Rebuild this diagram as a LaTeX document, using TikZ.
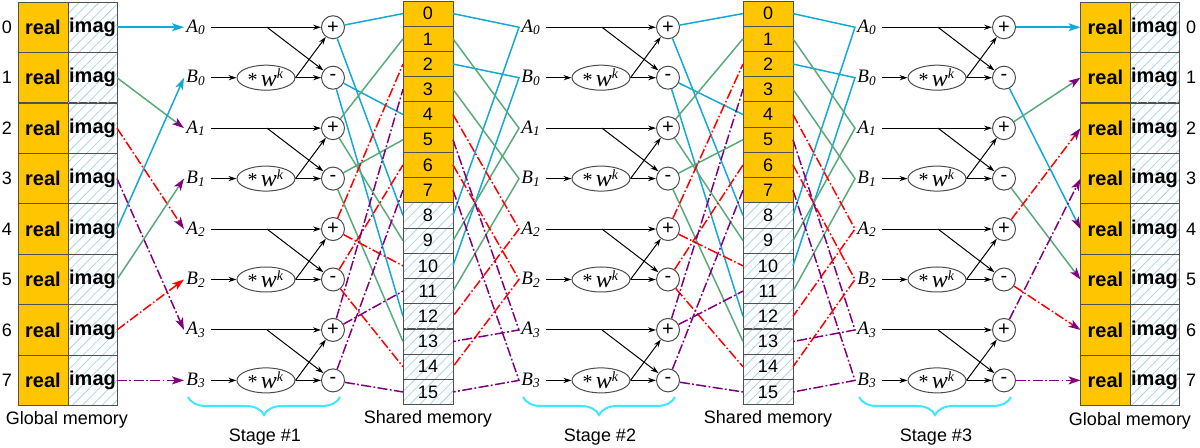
\documentclass[tikz,border=0pt]{standalone}
\usepackage{fontspec}
\setmainfont{Liberation Sans}
\newfontfamily\labfont{Liberation Serif}
\usetikzlibrary{arrows.meta,patterns.meta,decorations.pathreplacing,shapes.geometric}
\definecolor{memorange}{RGB}{255,198,0}
\definecolor{hatchblue}{RGB}{170,212,230}
\definecolor{cellline}{RGB}{80,80,80}
\definecolor{lncyan}{RGB}{22,168,212}
\definecolor{lngreen}{RGB}{88,170,122}
\definecolor{lnred}{RGB}{255,0,0}
\definecolor{lnpurple}{RGB}{128,0,128}
\definecolor{bracecyan}{RGB}{60,232,250}
\tikzset{realcell/.style={draw=cellline, fill=memorange, minimum width=25pt,
      minimum height=25.2pt, inner sep=0pt, outer sep=0pt, font=\bfseries}}
\tikzset{imagcell/.style={draw=cellline, pattern={Lines[angle=45,distance=3.5pt,line width=0.4pt]},
      pattern color=hatchblue, minimum width=24.5pt, minimum height=25.2pt,
      inner sep=0pt, outer sep=0pt, font=\bfseries}}
\tikzset{smreal/.style={draw=cellline, fill=memorange, minimum width=25pt,
      minimum height=12.6pt, inner sep=0pt, outer sep=0pt, font=\fontsize{9}{10}\selectfont}}
\tikzset{smimag/.style={draw=cellline, pattern={Lines[angle=45,distance=3.5pt,line width=0.4pt]},
      pattern color=hatchblue, minimum width=25pt, minimum height=12.6pt,
      inner sep=0pt, outer sep=0pt, font=\fontsize{9}{10}\selectfont}}
\tikzset{inlbl/.style={anchor=west, text width=11pt, inner sep=1pt,
      font=\labfont\fontsize{9.5}{11}\selectfont}}
\tikzset{twid/.style={ellipse, draw=black!70, line width=0.5pt, minimum width=29pt,
      minimum height=12.5pt, inner sep=0pt, font=\labfont\fontsize{10}{11}\selectfont}}
\tikzset{opnode/.style={circle, draw=black!70, line width=0.5pt, minimum size=11.5pt,
      inner sep=0pt, font=\fontsize{10}{10}\selectfont}}
\tikzset{arr/.style={line width=0.5pt, -{Stealth[length=4pt,width=2.6pt]}}}
\tikzset{ln0/.style={lncyan, line width=0.75pt}}
\tikzset{ln1/.style={lngreen, line width=0.75pt}}
\tikzset{ln2/.style={lnred, line width=0.75pt, dash pattern=on 5pt off 1.2pt on 0.8pt off 1.2pt}}
\tikzset{ln3/.style={lnpurple, line width=0.75pt, dash pattern=on 5pt off 1.2pt on 0.9pt off 1.2pt}}
\tikzset{brc/.style={draw=bracecyan, line width=1pt, decorate,
      decoration={brace, mirror, amplitude=9pt}}}

\begin{document}
\begin{tikzpicture}[x=0.5pt,y=-0.5pt,font=\fontsize{9}{11}\selectfont]
  \useasboundingbox (0,0) rectangle (1200,448);

  % global memory, both sides
  \foreach \rr in {0,...,7} {
    \pgfmathsetmacro\yy{27.25+50.45*\rr}
    \node[realcell] (gl-r\rr) at (43,\yy) {real};
    \node[imagcell] (gl-i\rr) at (92.5,\yy) {imag};
    \node (gl-n\rr) at (7,\yy) {\rr};
    \node[realcell] (gr-r\rr) at (1105.5,\yy) {real};
    \node[imagcell] (gr-i\rr) at (1154.5,\yy) {imag};
    \node (gr-n\rr) at (1191,\yy) {\rr};
  }
  \node (gl-lbl) at (67,420) {Global memory};
  \node (gr-lbl) at (1130,421) {Global memory};

  % shared memory
  \foreach \mm/\cx in {1/428,2/768} {
    \foreach \jj in {0,...,15} {
      \pgfmathsetmacro\yy{13.6+25.225*\jj}
      \ifnum\jj<8 \def\sty{smreal}\else\def\sty{smimag}\fi
      \node[\sty] (sm\mm-\jj) at (\cx,\yy) {\jj};
    }
    \node (sm\mm-lbl) at (\cx,419) {Shared memory};
  }

  % butterflies
  \foreach \st/\X in {1/0,2/335,3/671} {
    \foreach \kk in {0,...,3} {
      \pgfmathsetmacro\ya{27.25+100.9*\kk}
      \pgfmathsetmacro\yb{77.7+100.9*\kk}
      \node[inlbl] (a\st\kk) at (184+\X,\ya) {\textit{A}\textsubscript{\textit{\kk}}};
      \node[inlbl] (b\st\kk) at (184+\X,\yb) {\textit{B}\textsubscript{\textit{\kk}}};
      \node[twid] (tw\st\kk) at (266+\X,\yb)
        {*\,{\fontsize{12}{12}\selectfont\textit{w}}\textsuperscript{\textit{k}}};
      \node[opnode] (pl\st\kk) at (333+\X,\ya) {+};
      \node[opnode] (mi\st\kk) at (333+\X,\yb) {-};
      \coordinate (br\st\kk) at (267+\X,\ya);
      \draw[arr] (a\st\kk) -- (pl\st\kk);
      \draw[arr] (br\st\kk) -- (mi\st\kk);
      \draw[arr] (b\st\kk) -- (tw\st\kk);
      \draw[arr] (tw\st\kk) -- (mi\st\kk);
      \draw[arr] (tw\st\kk.east) -- (pl\st\kk);
    }
    \draw[brc] (188+\X,397) -- (340+\X,397);
    \node (stg\st) at (265+\X,437) {Stage \#\st};
  }

  % input: global memory -> stage 1
  \foreach \rr/\hd in {0/lncyan,1/lnpurple,2/lnpurple,3/lnpurple,4/lncyan,5/lnpurple,6/lnred,7/lnpurple} {
    \pgfmathtruncatemacro\kk{mod(\rr,4)}
    \ifnum\rr<4 \def\tgt{a1\kk}\else\def\tgt{b1\kk}\fi
    \draw[ln\kk, -{Stealth[length=6pt,width=4pt,inset=1.5pt,color=\hd]}] (gl-i\rr.east) -- (\tgt.west);
  }

  % stage outputs -> shared memory
  \foreach \st in {1,2} {
    \foreach \kk in {0,...,3} {
      \pgfmathtruncatemacro\ci{\kk+8}
      \pgfmathtruncatemacro\cm{\kk+4}
      \pgfmathtruncatemacro\cmi{\kk+12}
      \draw[ln\kk] (pl\st\kk) -- (sm\st-\kk.west);
      \draw[ln\kk] (pl\st\kk) -- (sm\st-\ci.west);
      \draw[ln\kk] (mi\st\kk) -- (sm\st-\cm.west);
      \draw[ln\kk] (mi\st\kk) -- (sm\st-\cmi.west);
    }
  }

  % shared memory -> next stage
  \foreach \st/\nx in {1/2,2/3} {
    \foreach \kk in {0,...,3} {
      \pgfmathtruncatemacro\ca{\kk+2*int(\kk/2)}
      \pgfmathtruncatemacro\cai{\ca+8}
      \pgfmathtruncatemacro\cb{\ca+2}
      \pgfmathtruncatemacro\cbi{\ca+10}
      \draw[ln\kk] (sm\st-\ca.east) -- (a\nx\kk.west) -- (sm\st-\cai.east);
      \draw[ln\kk] (sm\st-\cb.east) -- (b\nx\kk.west) -- (sm\st-\cbi.east);
    }
  }

  % stage 3 -> global memory
  \foreach \kk/\hp in {0/lncyan,1/lnpurple,2/lnpurple,3/lnpurple} {
    \pgfmathtruncatemacro\rw{\kk+4}
    \draw[ln\kk, -{Stealth[length=6pt,width=4pt,inset=1.5pt,color=\hp]}] (pl3\kk) -- (gr-r\kk.west);
    \draw[ln\kk, -{Stealth[length=6pt,width=4pt,inset=1.5pt,color=lnpurple]}] (mi3\kk) -- (gr-r\rw.west);
  }
\end{tikzpicture}
\end{document}
